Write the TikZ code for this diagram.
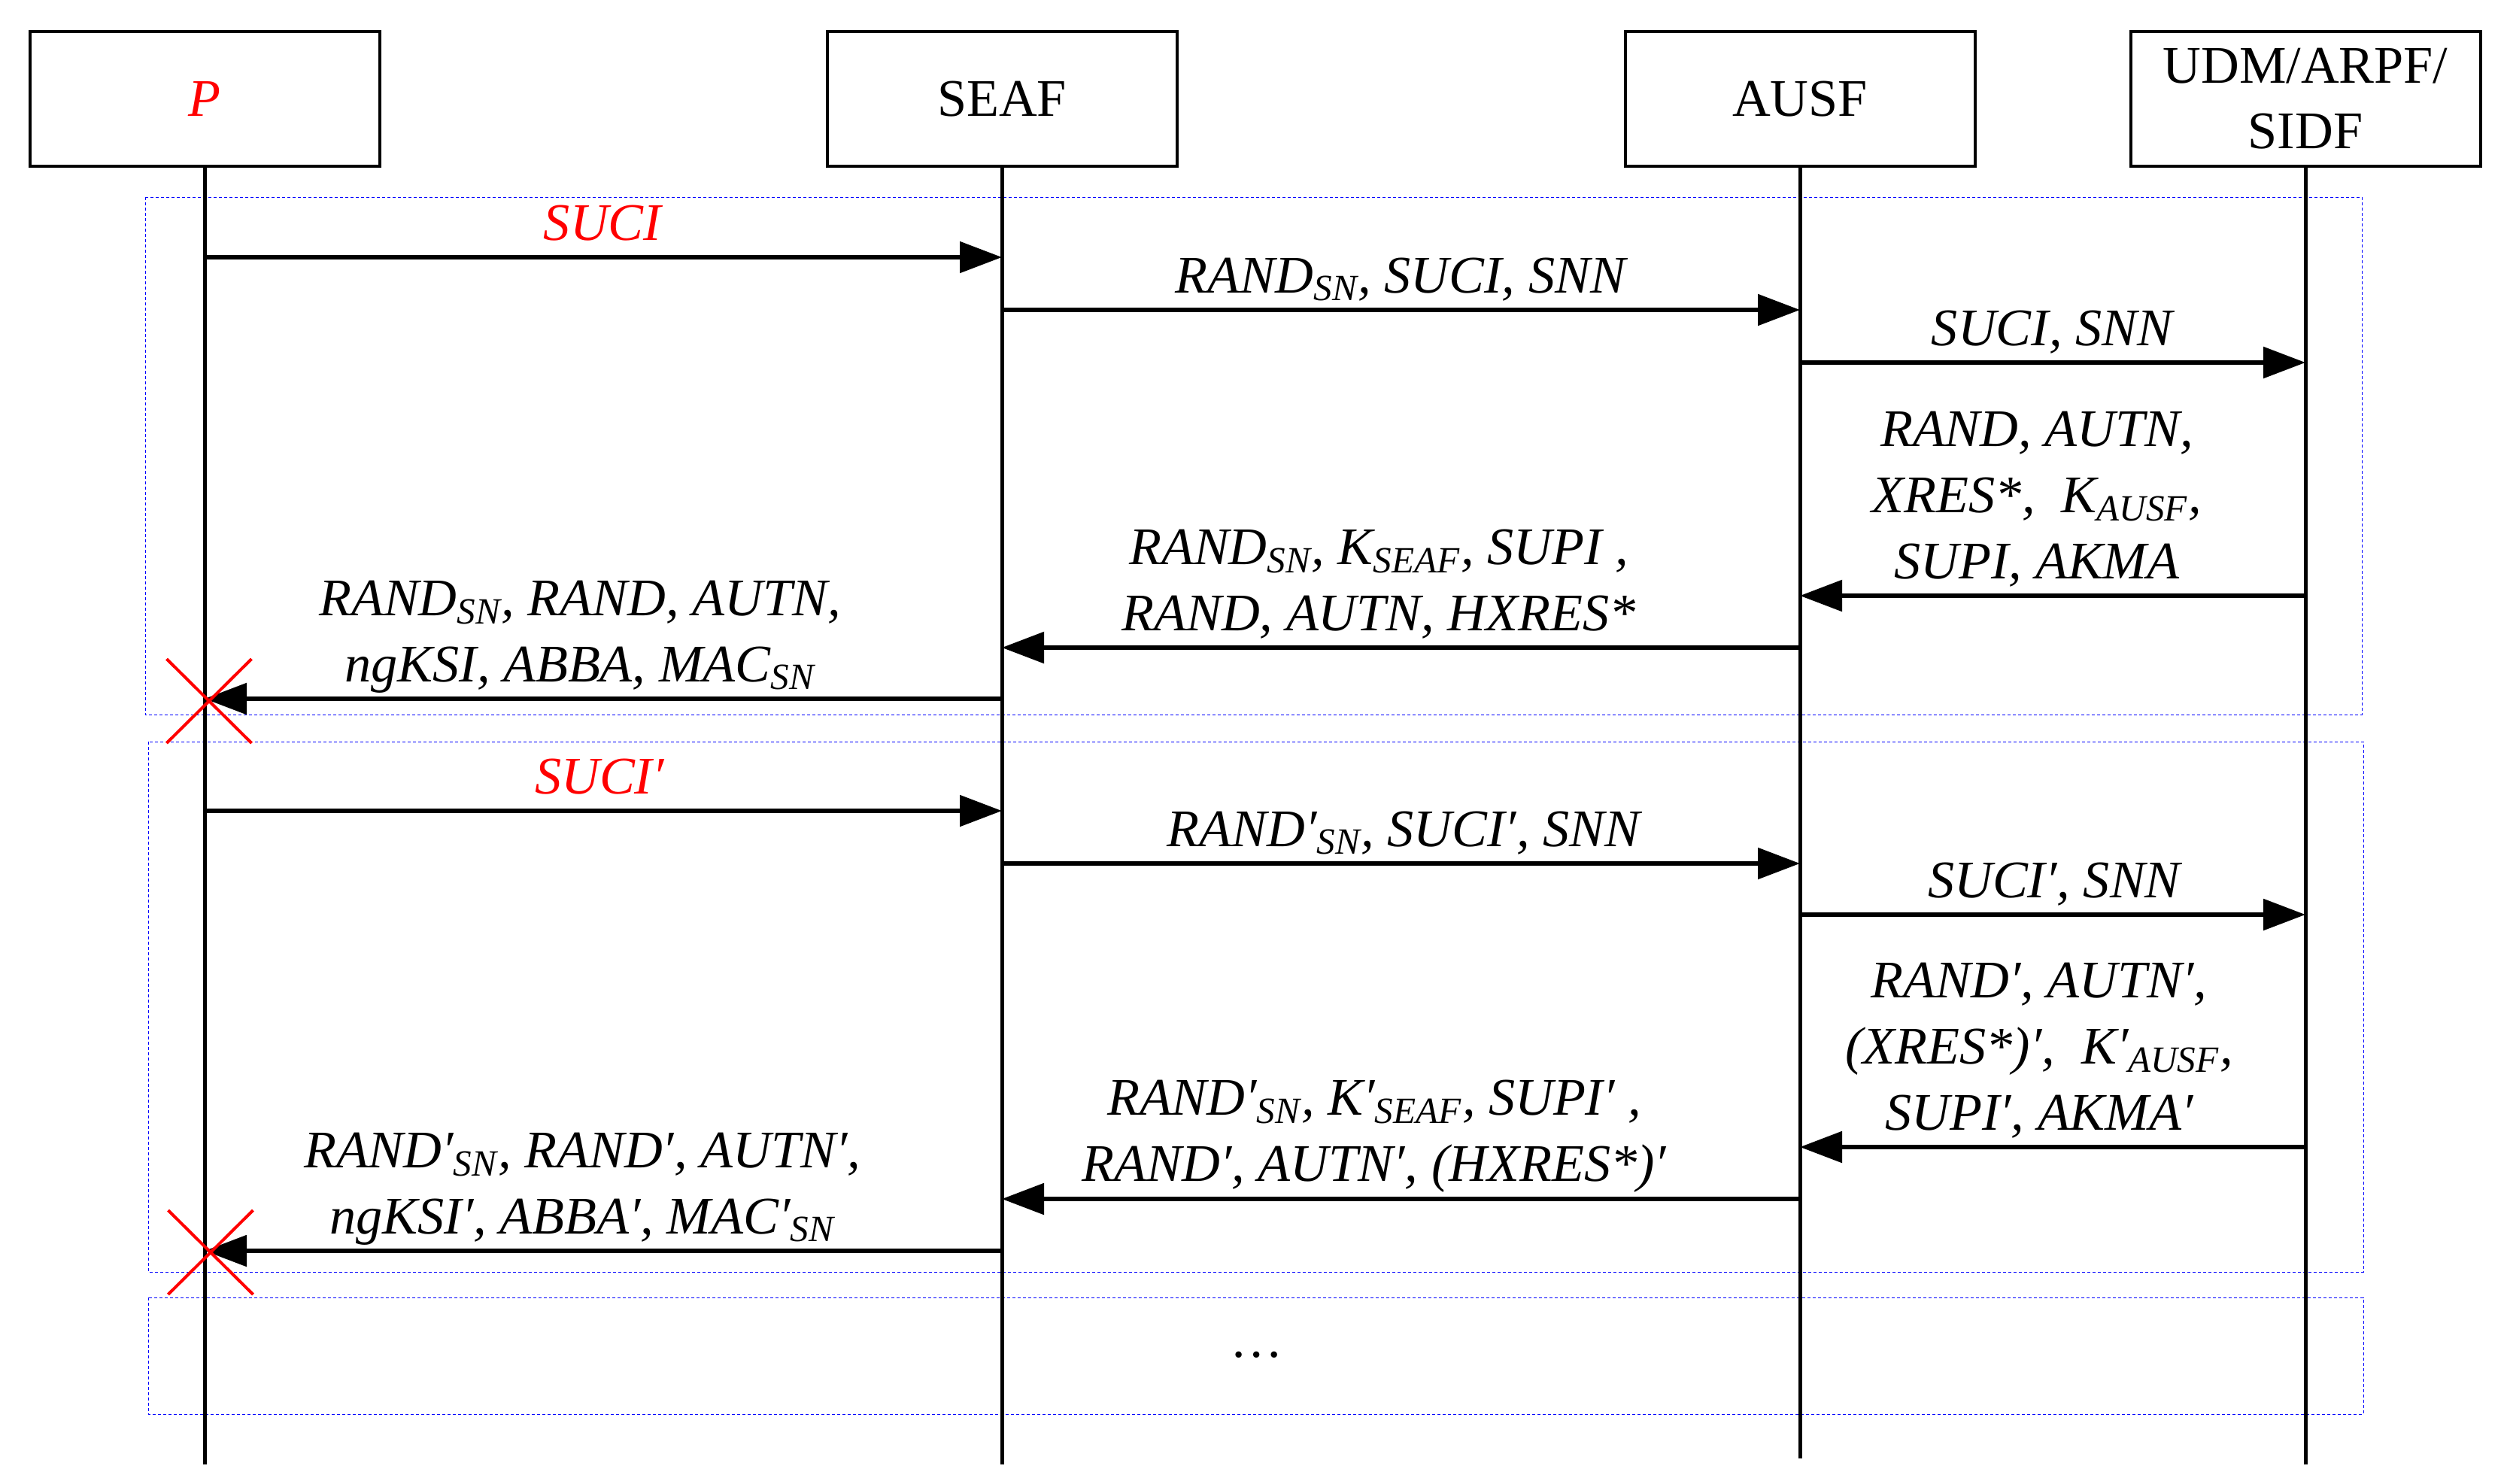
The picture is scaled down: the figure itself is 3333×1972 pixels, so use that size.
\documentclass[tikz,border=0pt]{standalone}
\usepackage{fontspec}
\setmainfont{Liberation Serif}
\usetikzlibrary{arrows.meta,shapes.misc}

\newcommand{\sbs}[1]{\textsubscript{#1}}

\begin{document}
\begin{tikzpicture}[x=0.1mm,y=-0.1mm]
  \tikzset{EntityStyle/.style = {
    shape         = rectangle,
    draw          = black,
    fill          = white,
    line width    = 0.4mm,
    text          = black,
    align         = center,
    inner sep     = 0pt,
    outer sep     = 0pt,
    minimum width = 46.5mm,
    minimum height= 17.9mm,
    font          = \fontsize{20}{24.7}\selectfont
    }
  }
  \tikzset{LifeStyle/.style = {
    draw          = black,
    line width    = 0.5mm
    }
  }
  \tikzset{MsgStyle/.style = {
    draw          = black,
    line width    = 0.55mm,
    -{Triangle[length=5.6mm,width=4.1mm]}
    }
  }
  \tikzset{MsgLabelStyle/.style = {
    align         = center,
    anchor        = base,
    inner sep     = 0pt,
    outer sep     = 0pt,
    text          = black,
    font          = \fontsize{20}{25}\selectfont\itshape
    }
  }
  \tikzset{RoundStyle/.style = {
    draw          = blue,
    line width    = 0.1mm,
    dash pattern  = on 0.4mm off 0.3mm
    }
  }
  \tikzset{CrossStyle/.style = {
    shape         = cross out,
    draw          = red,
    line width    = 0.4mm,
    inner sep     = 0pt,
    minimum width = 10.9mm,
    minimum height= 10.8mm
    }
  }

  \useasboundingbox (0,0) rectangle (3333,1972);

  % rounds
  \draw[RoundStyle] (193,262) rectangle (3140,950);
  \draw[RoundStyle] (197,986) rectangle (3142,1691);
  \draw[RoundStyle] (197,1725) rectangle (3142,1880);

  \node[EntityStyle,text=red,font=\fontsize{20}{24.7}\selectfont\itshape](P) at (272,131.5) {P};
  \node[EntityStyle](SEAF) at (1332,131.5) {SEAF};
  \node[EntityStyle](AUSF) at (2393,131.5) {AUSF};
  \node[EntityStyle](UDM) at (3065,131.5) {UDM/ARPF/\\SIDF};

  \coordinate (Pend) at (272,1947);
  \coordinate (SEAFend) at (1332,1947);
  \coordinate (AUSFend) at (2393,1939);
  \coordinate (UDMend) at (3065,1947);
  \draw[LifeStyle](P) -- (Pend);
  \draw[LifeStyle](SEAF) -- (SEAFend);
  \draw[LifeStyle](AUSF) -- (AUSFend);
  \draw[LifeStyle](UDM) -- (UDMend);

  % first round
  \coordinate (P1) at (272,342);   \coordinate (S1) at (1332,342);
  \coordinate (S2) at (1332,412);  \coordinate (A2) at (2393,412);
  \coordinate (A3) at (2393,482);  \coordinate (U3) at (3065,482);
  \coordinate (U4) at (3065,792);  \coordinate (A4) at (2393,792);
  \coordinate (A5) at (2393,861);  \coordinate (S5) at (1332,861);
  \coordinate (S6) at (1332,929);  \coordinate (P6) at (272,929);
  \draw[MsgStyle](P1) -- (S1);
  \draw[MsgStyle](S2) -- (A2);
  \draw[MsgStyle](A3) -- (U3);
  \draw[MsgStyle](U4) -- (A4);
  \draw[MsgStyle](A5) -- (S5);
  \draw[MsgStyle](S6) -- (P6);
  \node[MsgLabelStyle,text=red](L1) at (801,319) {SUCI};
  \node[MsgLabelStyle](L2) at (1862,389) {RAND\sbs{SN}, SUCI, SNN};
  \node[MsgLabelStyle](L3) at (2728,459) {SUCI, SNN};
  \node[MsgLabelStyle](L4) at (2708,769) {RAND, AUTN,\\XRES*,\ \ K\sbs{AUSF},\\SUPI, AKMA};
  \node[MsgLabelStyle](L5) at (1833,838) {RAND\sbs{SN}, K\sbs{SEAF}, SUPI ,\\RAND, AUTN, HXRES*};
  \node[MsgLabelStyle](L6) at (771,906) {RAND\sbs{SN}, RAND, AUTN,\\ngKSI, ABBA, MAC\sbs{SN}};
  \node[CrossStyle](X1) at (278,932) {};

  % second round
  \coordinate (P7) at (272,1078);   \coordinate (S7) at (1332,1078);
  \coordinate (S8) at (1332,1148);  \coordinate (A8) at (2393,1148);
  \coordinate (A9) at (2393,1216);  \coordinate (U9) at (3065,1216);
  \coordinate (U10) at (3065,1525); \coordinate (A10) at (2393,1525);
  \coordinate (A11) at (2393,1594); \coordinate (S11) at (1332,1594);
  \coordinate (S12) at (1332,1663); \coordinate (P12) at (272,1663);
  \draw[MsgStyle](P7) -- (S7);
  \draw[MsgStyle](S8) -- (A8);
  \draw[MsgStyle](A9) -- (U9);
  \draw[MsgStyle](U10) -- (A10);
  \draw[MsgStyle](A11) -- (S11);
  \draw[MsgStyle](S12) -- (P12);
  \node[MsgLabelStyle,text=red](L7) at (797,1055) {SUCI′};
  \node[MsgLabelStyle](L8) at (1866,1125) {RAND′\sbs{SN}, SUCI′, SNN};
  \node[MsgLabelStyle](L9) at (2731,1193) {SUCI′, SNN};
  \node[MsgLabelStyle](L10) at (2711,1502) {RAND′, AUTN′,\\(XRES*)′,\ \ K′\sbs{AUSF},\\SUPI′, AKMA′};
  \node[MsgLabelStyle](L11) at (1827,1570) {RAND′\sbs{SN}, K′\sbs{SEAF}, SUPI′ ,\\RAND′, AUTN′, (HXRES*)′};
  \node[MsgLabelStyle](L12) at (774,1640) {RAND′\sbs{SN}, RAND′, AUTN′,\\ngKSI′, ABBA′, MAC′\sbs{SN}};
  \node[CrossStyle](X2) at (280,1665) {};

  \node[MsgLabelStyle,font=\fontsize{20}{25}\selectfont](Dots) at (1671,1804) {\dots};
\end{tikzpicture}
\end{document}
